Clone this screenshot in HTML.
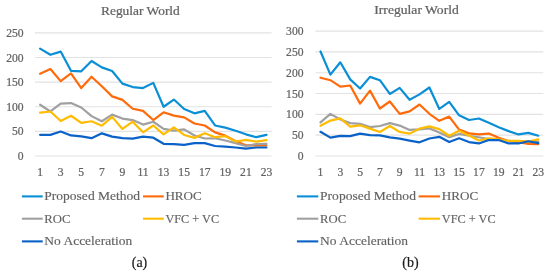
<!DOCTYPE html>
<html><head><meta charset="utf-8"><style>
html,body{margin:0;padding:0;background:#fff;}
body{width:550px;height:274px;overflow:hidden;position:relative;}
svg{position:absolute;left:0;top:0;will-change:transform;}
text{font-family:"Liberation Serif", serif;}
.ax{font-size:11.6px;fill:#626262;stroke:#626262;stroke-width:0.22px;}
.ti{font-size:12px;fill:#626262;stroke:#626262;stroke-width:0.22px;}
.lg{font-size:12.4px;fill:#626262;stroke:#626262;stroke-width:0.15px;}
.cp{font-size:14px;fill:#1a1a1a;stroke:#1a1a1a;stroke-width:0.2px;}
</style></head><body>
<svg width="550" height="274" viewBox="0 0 550 274">
<line x1="35" y1="156.00" x2="271.6" y2="156.00" stroke="#E2E2E2" stroke-width="1.1"/>
<text x="23.6" y="160.00" text-anchor="end" class="ax">0</text>
<line x1="35" y1="131.38" x2="271.6" y2="131.38" stroke="#E2E2E2" stroke-width="1.1"/>
<text x="23.6" y="135.38" text-anchor="end" class="ax">50</text>
<line x1="35" y1="106.75" x2="271.6" y2="106.75" stroke="#E2E2E2" stroke-width="1.1"/>
<text x="23.6" y="110.75" text-anchor="end" class="ax">100</text>
<line x1="35" y1="82.12" x2="271.6" y2="82.12" stroke="#E2E2E2" stroke-width="1.1"/>
<text x="23.6" y="86.12" text-anchor="end" class="ax">150</text>
<line x1="35" y1="57.50" x2="271.6" y2="57.50" stroke="#E2E2E2" stroke-width="1.1"/>
<text x="23.6" y="61.50" text-anchor="end" class="ax">200</text>
<line x1="35" y1="32.88" x2="271.6" y2="32.88" stroke="#E2E2E2" stroke-width="1.1"/>
<text x="23.6" y="36.88" text-anchor="end" class="ax">250</text>
<text x="40.10" y="176" text-anchor="middle" class="ax">1</text>
<text x="60.68" y="176" text-anchor="middle" class="ax">3</text>
<text x="81.26" y="176" text-anchor="middle" class="ax">5</text>
<text x="101.84" y="176" text-anchor="middle" class="ax">7</text>
<text x="122.42" y="176" text-anchor="middle" class="ax">9</text>
<text x="143.00" y="176" text-anchor="middle" class="ax">11</text>
<text x="163.58" y="176" text-anchor="middle" class="ax">13</text>
<text x="184.16" y="176" text-anchor="middle" class="ax">15</text>
<text x="204.74" y="176" text-anchor="middle" class="ax">17</text>
<text x="225.32" y="176" text-anchor="middle" class="ax">19</text>
<text x="245.90" y="176" text-anchor="middle" class="ax">21</text>
<text x="266.48" y="176" text-anchor="middle" class="ax">23</text>
<polyline points="40.10,48.64 50.39,54.79 60.68,51.59 70.97,70.80 81.26,71.29 91.55,60.95 101.84,67.35 112.13,71.04 122.42,83.60 132.71,87.05 143.00,88.03 153.29,82.86 163.58,106.75 173.87,99.56 184.16,108.97 194.45,113.35 204.74,110.94 215.03,125.47 225.32,127.68 235.61,130.69 245.90,134.33 256.19,137.19 266.48,134.82" fill="none" stroke="#0A8FD6" stroke-width="2.2" stroke-linejoin="round" stroke-linecap="round"/>
<polyline points="40.10,73.75 50.39,69.02 60.68,81.14 70.97,73.41 81.26,88.03 91.55,76.71 101.84,86.31 112.13,96.41 122.42,99.86 132.71,108.72 143.00,110.94 153.29,120.05 163.58,112.27 173.87,115.62 184.16,117.34 194.45,123.50 204.74,125.47 215.03,132.36 225.32,135.66 235.61,141.22 245.90,145.31 256.19,145.31 266.48,145.31" fill="none" stroke="#FF6A0A" stroke-width="2.2" stroke-linejoin="round" stroke-linecap="round"/>
<polyline points="40.10,104.78 50.39,111.48 60.68,103.55 70.97,103.06 81.26,107.49 91.55,116.11 101.84,121.28 112.13,114.63 122.42,118.57 132.71,120.05 143.00,124.58 153.29,121.77 163.58,128.91 173.87,130.64 184.16,129.41 194.45,135.56 204.74,138.52 215.03,138.27 225.32,140.49 235.61,143.10 245.90,146.00 256.19,144.18 266.48,143.79" fill="none" stroke="#A0A0A0" stroke-width="2.2" stroke-linejoin="round" stroke-linecap="round"/>
<polyline points="40.10,112.66 50.39,111.48 60.68,121.03 70.97,115.76 81.26,122.81 91.55,121.28 101.84,125.66 112.13,116.85 122.42,128.96 132.71,121.67 143.00,132.36 153.29,125.47 163.58,134.33 173.87,127.44 184.16,134.97 194.45,137.88 204.74,133.34 215.03,137.19 225.32,136.10 235.61,141.57 245.90,139.90 256.19,141.57 266.48,140.09" fill="none" stroke="#FFBC00" stroke-width="2.2" stroke-linejoin="round" stroke-linecap="round"/>
<polyline points="40.10,134.87 50.39,134.87 60.68,131.57 70.97,135.46 81.26,136.40 91.55,138.17 101.84,133.34 112.13,136.60 122.42,138.17 132.71,138.57 143.00,136.60 153.29,137.68 163.58,143.79 173.87,144.18 184.16,144.87 194.45,143.10 204.74,143.10 215.03,146.00 225.32,146.64 235.61,147.48 245.90,148.61 256.19,147.48 266.48,147.48" fill="none" stroke="#0A62C8" stroke-width="2.2" stroke-linejoin="round" stroke-linecap="round"/>
<text x="101.0" y="15.2" textLength="78.8" lengthAdjust="spacingAndGlyphs" class="ti">Regular World</text>
<line x1="21.9" y1="196.4" x2="42.7" y2="196.4" stroke="#0A8FD6" stroke-width="2.1"/>
<text x="44.3" y="200.3" textLength="95.8" lengthAdjust="spacingAndGlyphs" class="lg">Proposed Method</text>
<line x1="143" y1="196.4" x2="163.8" y2="196.4" stroke="#FF6A0A" stroke-width="2.1"/>
<text x="165.4" y="200.3" textLength="36.4" lengthAdjust="spacingAndGlyphs" class="lg">HROC</text>
<line x1="21.9" y1="218.7" x2="42.7" y2="218.7" stroke="#A0A0A0" stroke-width="2.1"/>
<text x="44.3" y="222.6" textLength="26.1" lengthAdjust="spacingAndGlyphs" class="lg">ROC</text>
<line x1="143" y1="218.7" x2="163.8" y2="218.7" stroke="#FFBC00" stroke-width="2.1"/>
<text x="165.4" y="222.6" textLength="53.8" lengthAdjust="spacingAndGlyphs" class="lg">VFC + VC</text>
<line x1="21.9" y1="241.4" x2="42.7" y2="241.4" stroke="#0A62C8" stroke-width="2.1"/>
<text x="44.3" y="245.3" textLength="88" lengthAdjust="spacingAndGlyphs" class="lg">No Acceleration</text>
<text x="139.5" y="267" text-anchor="middle" class="cp">(a)</text>
<line x1="315.5" y1="155.95" x2="543.3" y2="155.95" stroke="#E2E2E2" stroke-width="1.1"/>
<text x="303.5" y="159.95" text-anchor="end" class="ax">0</text>
<line x1="315.5" y1="135.14" x2="543.3" y2="135.14" stroke="#E2E2E2" stroke-width="1.1"/>
<text x="303.5" y="139.14" text-anchor="end" class="ax">50</text>
<line x1="315.5" y1="114.33" x2="543.3" y2="114.33" stroke="#E2E2E2" stroke-width="1.1"/>
<text x="303.5" y="118.33" text-anchor="end" class="ax">100</text>
<line x1="315.5" y1="93.52" x2="543.3" y2="93.52" stroke="#E2E2E2" stroke-width="1.1"/>
<text x="303.5" y="97.52" text-anchor="end" class="ax">150</text>
<line x1="315.5" y1="72.71" x2="543.3" y2="72.71" stroke="#E2E2E2" stroke-width="1.1"/>
<text x="303.5" y="76.71" text-anchor="end" class="ax">200</text>
<line x1="315.5" y1="51.90" x2="543.3" y2="51.90" stroke="#E2E2E2" stroke-width="1.1"/>
<text x="303.5" y="55.90" text-anchor="end" class="ax">250</text>
<line x1="315.5" y1="31.09" x2="543.3" y2="31.09" stroke="#E2E2E2" stroke-width="1.1"/>
<text x="303.5" y="35.09" text-anchor="end" class="ax">300</text>
<text x="320.50" y="176" text-anchor="middle" class="ax">1</text>
<text x="340.30" y="176" text-anchor="middle" class="ax">3</text>
<text x="360.10" y="176" text-anchor="middle" class="ax">5</text>
<text x="379.90" y="176" text-anchor="middle" class="ax">7</text>
<text x="399.70" y="176" text-anchor="middle" class="ax">9</text>
<text x="419.50" y="176" text-anchor="middle" class="ax">11</text>
<text x="439.30" y="176" text-anchor="middle" class="ax">13</text>
<text x="459.10" y="176" text-anchor="middle" class="ax">15</text>
<text x="478.90" y="176" text-anchor="middle" class="ax">17</text>
<text x="498.70" y="176" text-anchor="middle" class="ax">19</text>
<text x="518.50" y="176" text-anchor="middle" class="ax">21</text>
<text x="538.30" y="176" text-anchor="middle" class="ax">23</text>
<polyline points="320.50,51.48 330.40,74.62 340.30,62.30 350.20,79.37 360.10,88.53 370.00,76.87 379.90,80.20 389.80,93.94 399.70,87.90 409.60,99.76 419.50,94.35 429.40,87.53 439.30,108.92 449.20,101.84 459.10,115.33 469.00,120.03 478.90,118.49 488.80,122.86 498.70,127.23 508.60,131.14 518.50,134.43 528.40,132.85 538.30,135.72" fill="none" stroke="#0A8FD6" stroke-width="2.2" stroke-linejoin="round" stroke-linecap="round"/>
<polyline points="320.50,77.70 330.40,80.20 340.30,86.61 350.20,85.49 360.10,103.63 370.00,90.61 379.90,108.50 389.80,101.51 399.70,113.91 409.60,111.33 419.50,104.51 429.40,113.79 439.30,120.82 449.20,116.62 459.10,129.65 469.00,133.35 478.90,134.43 488.80,133.56 498.70,137.76 508.60,140.97 518.50,142.05 528.40,143.88 538.30,144.25" fill="none" stroke="#FF6A0A" stroke-width="2.2" stroke-linejoin="round" stroke-linecap="round"/>
<polyline points="320.50,122.45 330.40,113.91 340.30,119.45 350.20,123.15 360.10,123.90 370.00,127.15 379.90,126.03 389.80,123.15 399.70,125.57 409.60,129.94 419.50,129.31 429.40,128.36 439.30,132.43 449.20,137.22 459.10,133.93 469.00,135.72 478.90,137.22 488.80,139.05 498.70,139.93 508.60,140.97 518.50,141.63 528.40,141.63 538.30,141.63" fill="none" stroke="#A0A0A0" stroke-width="2.2" stroke-linejoin="round" stroke-linecap="round"/>
<polyline points="320.50,125.78 330.40,120.57 340.30,118.33 350.20,126.65 360.10,125.32 370.00,128.65 379.90,131.94 389.80,126.03 399.70,131.94 409.60,133.64 419.50,128.65 429.40,126.40 439.30,129.15 449.20,135.72 459.10,130.73 469.00,135.56 478.90,140.55 488.80,138.34 498.70,139.43 508.60,140.97 518.50,140.97 528.40,141.63 538.30,139.43" fill="none" stroke="#FFBC00" stroke-width="2.2" stroke-linejoin="round" stroke-linecap="round"/>
<polyline points="320.50,131.81 330.40,137.64 340.30,135.81 350.20,136.06 360.10,133.64 370.00,135.14 379.90,135.39 389.80,137.39 399.70,138.64 409.60,140.55 419.50,142.34 429.40,138.47 439.30,136.80 449.20,142.05 459.10,138.34 469.00,142.05 478.90,143.46 488.80,140.05 498.70,140.05 508.60,143.46 518.50,143.46 528.40,141.26 538.30,143.13" fill="none" stroke="#0A62C8" stroke-width="2.2" stroke-linejoin="round" stroke-linecap="round"/>
<text x="374.3" y="14.2" textLength="84.5" lengthAdjust="spacingAndGlyphs" class="ti">Irregular World</text>
<line x1="296.9" y1="196.4" x2="318.29999999999995" y2="196.4" stroke="#0A8FD6" stroke-width="2.1"/>
<text x="320.09999999999997" y="200.3" textLength="95.8" lengthAdjust="spacingAndGlyphs" class="lg">Proposed Method</text>
<line x1="418.6" y1="196.4" x2="440.0" y2="196.4" stroke="#FF6A0A" stroke-width="2.1"/>
<text x="441.8" y="200.3" textLength="36.4" lengthAdjust="spacingAndGlyphs" class="lg">HROC</text>
<line x1="296.9" y1="218.7" x2="318.29999999999995" y2="218.7" stroke="#A0A0A0" stroke-width="2.1"/>
<text x="320.09999999999997" y="222.6" textLength="26.1" lengthAdjust="spacingAndGlyphs" class="lg">ROC</text>
<line x1="418.6" y1="218.7" x2="440.0" y2="218.7" stroke="#FFBC00" stroke-width="2.1"/>
<text x="441.8" y="222.6" textLength="53.8" lengthAdjust="spacingAndGlyphs" class="lg">VFC + VC</text>
<line x1="296.9" y1="241.4" x2="318.29999999999995" y2="241.4" stroke="#0A62C8" stroke-width="2.1"/>
<text x="320.09999999999997" y="245.3" textLength="88" lengthAdjust="spacingAndGlyphs" class="lg">No Acceleration</text>
<text x="410.5" y="267" text-anchor="middle" class="cp">(b)</text>
</svg>
</body></html>
